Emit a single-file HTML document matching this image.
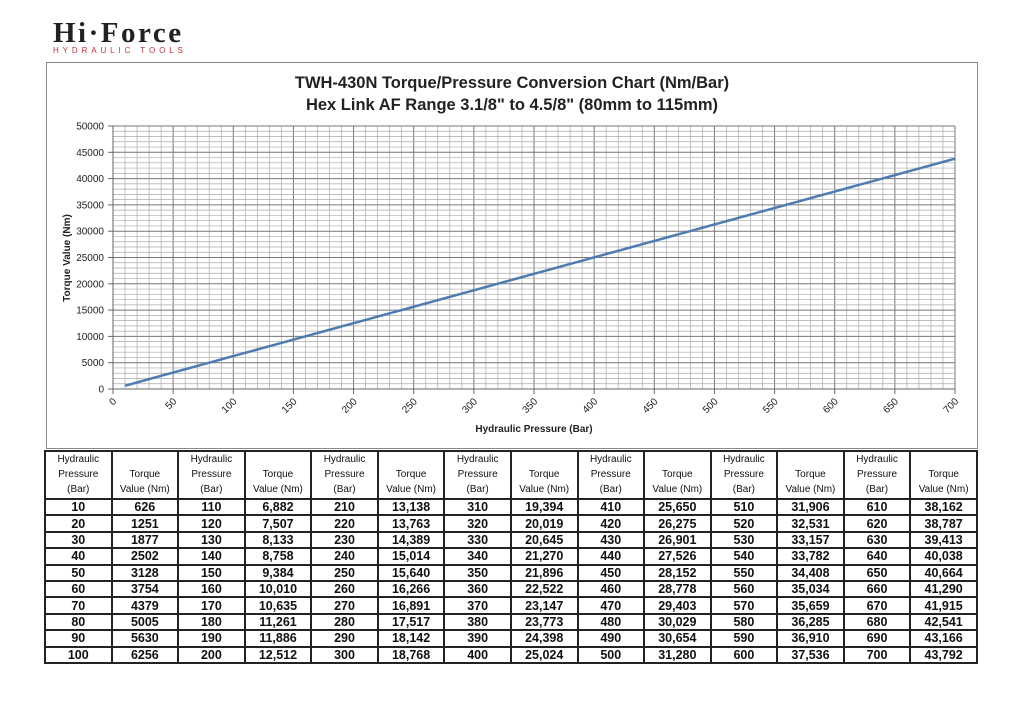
<!DOCTYPE html>
<html><head><meta charset="utf-8"><style>
body{margin:0;background:#fff;width:1024px;height:725px;position:relative;overflow:hidden;font-family:"Liberation Sans",sans-serif}
#tbl{position:absolute;left:44px;top:450px;border-collapse:collapse;table-layout:fixed;width:934px}
#tbl td{border:2px solid #222;text-align:center;padding:0;color:#111}
#tbl tr.h td{height:45px;font-size:10px;line-height:15px;vertical-align:bottom;padding-bottom:1px}
#tbl tr.d td{height:14.4px;font-size:12.5px;font-weight:bold;line-height:12px}
</style></head><body>
<div style="position:absolute;left:53px;top:21px">
<div style="font-family:'Liberation Serif',serif;font-weight:bold;font-size:29px;line-height:24px;color:#222;letter-spacing:2.5px">Hi·Force</div>
<div style="font-size:8px;color:#c0303a;letter-spacing:3.9px;line-height:9px;margin-top:1px">HYDRAULIC TOOLS</div>
</div>
<svg id="chart" width="1024" height="725" style="position:absolute;left:0;top:0"></svg>
<table id="tbl"></table>
<script>
const pressures=[10,20,30,40,50,60,70,80,90,100,110,120,130,140,150,160,170,180,190,200,210,220,230,240,250,260,270,280,290,300,310,320,330,340,350,360,370,380,390,400,410,420,430,440,450,460,470,480,490,500,510,520,530,540,550,560,570,580,590,600,610,620,630,640,650,660,670,680,690,700];
const torques=[626,1251,1877,2502,3128,3754,4379,5005,5630,6256,6882,7507,8133,8758,9384,10010,10635,11261,11886,12512,13138,13763,14389,15014,15640,16266,16891,17517,18142,18768,19394,20019,20645,21270,21896,22522,23147,23773,24398,25024,25650,26275,26901,27526,28152,28778,29403,30029,30654,31280,31906,32531,33157,33782,34408,35034,35659,36285,36910,37536,38162,38787,39413,40038,40664,41290,41915,42541,43166,43792];
const xTicks=[0,50,100,150,200,250,300,350,400,450,500,550,600,650,700];
const yTicks=[0,5000,10000,15000,20000,25000,30000,35000,40000,45000,50000];
const NS="http://www.w3.org/2000/svg";
const svg=document.getElementById('chart');
const X0=113,X1=955,Y0=389,Y1=126;
const xs=v=>X0+(v-0)/700*(X1-X0);
const ys=v=>Y0-(v/50000)*(Y0-Y1);
function mk(t,a,p){const e=document.createElementNS(NS,t);for(const k in a)e.setAttribute(k,a[k]);(p||svg).appendChild(e);return e;}
const frame=mk('rect',{x:46.5,y:62.5,width:931,height:386,fill:'#fff',stroke:'#888','stroke-width':1});


const t1=mk('text',{x:512,y:88,'text-anchor':'middle','font-size':16.5,'font-weight':'bold',fill:'#222'});t1.textContent='TWH-430N Torque/Pressure Conversion Chart (Nm/Bar)';


const t2=mk('text',{x:512,y:110,'text-anchor':'middle','font-size':16.5,'font-weight':'bold',fill:'#222'});t2.textContent='Hex Link AF Range 3.1/8" to 4.5/8" (80mm to 115mm)';


const g=mk('g',{});


for(let v=0;v<=700;v+=10){mk('line',{x1:xs(v),x2:xs(v),y1:Y1,y2:Y0,stroke:v%50===0?'#777':'#aaa','stroke-width':v%50===0?1:0.7},g);}
for(let v=0;v<=50000;v+=1000){mk('line',{x1:X0,x2:X1,y1:ys(v),y2:ys(v),stroke:v%5000===0?'#777':'#aaa','stroke-width':v%5000===0?1:0.7},g);}
mk('line',{x1:X0,x2:X0,y1:Y1,y2:Y0,stroke:'#666'},g);
mk('line',{x1:X0,x2:X1,y1:Y0,y2:Y0,stroke:'#666'},g);
yTicks.forEach(v=>{mk('line',{x1:X0-5,x2:X0,y1:ys(v),y2:ys(v),stroke:'#666'});
const t=mk('text',{x:104,y:ys(v)+3.5,'text-anchor':'end','font-size':10,fill:'#222'});t.textContent=v;

});
xTicks.forEach(v=>{mk('line',{x1:xs(v),x2:xs(v),y1:Y0,y2:Y0+5,stroke:'#666'});
const ax=xs(v)+4,ay=Y0+13;
const t=mk('text',{x:ax,y:ay,'text-anchor':'end','font-size':10,fill:'#222',transform:`rotate(-45 ${ax} ${ay})`});t.textContent=v;

});
const xt=mk('text',{x:534,y:432,'text-anchor':'middle','font-size':10,'font-weight':'bold',fill:'#222'});xt.textContent='Hydraulic Pressure (Bar)';


const yt=mk('text',{x:70,y:258,'text-anchor':'middle','font-size':10,'font-weight':'bold',fill:'#222',transform:'rotate(-90 70 258)'});yt.textContent='Torque Value (Nm)';


const line=mk('polyline',{points:pressures.map((p,i)=>xs(p)+','+ys(torques[i])).join(' '),fill:'none',stroke:'#4f7cb0','stroke-width':2.5});


const tbl=document.getElementById('tbl');
let h=document.createElement('tr');h.className='h';


for(let c=0;c<7;c++){h.innerHTML+='<td>Hydraulic<br>Pressure<br>(Bar)</td><td>Torque<br>Value (Nm)</td>';}
tbl.appendChild(h);
for(let r=0;r<10;r++){const tr=document.createElement('tr');tr.className='d';


for(let c=0;c<7;c++){const i=c*10+r;const tv=c===0?String(torques[i]):torques[i].toLocaleString('en-US');
tr.innerHTML+='<td>'+pressures[i]+'</td><td>'+tv+'</td>';}
tbl.appendChild(tr);}
</script>
</body></html>
